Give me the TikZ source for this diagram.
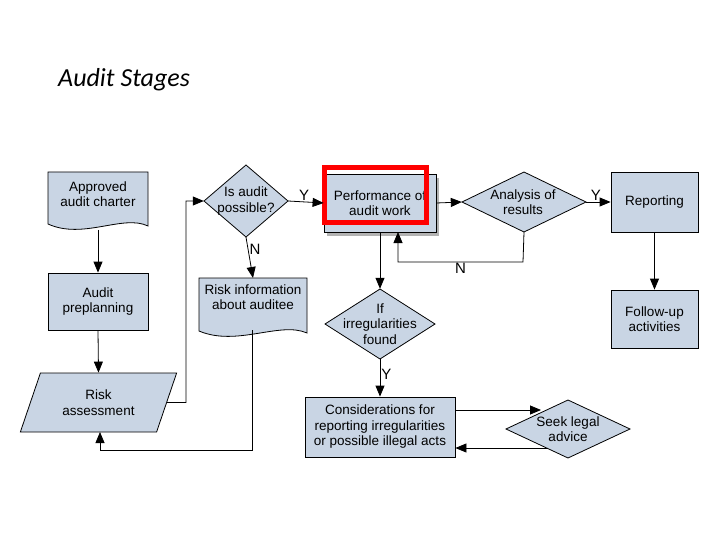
\documentclass[tikz,border=0pt]{standalone}
\usepackage{fontspec}
\setmainfont{Liberation Sans}
\newfontfamily\titlefont{Carlito}
\usetikzlibrary{shapes.geometric,arrows.meta}
\definecolor{fl}{HTML}{C9D5E4}
\newcommand{\docshape}[4]{\draw[thick,fill=fl] (#1,#2) -- (#3,#2) -- (#3,#4) .. controls ({#1+0.75*(#3-#1)},{#4-12}) and ({#1+0.35*(#3-#1)},{#4+14}) .. (#1,{#4-2}) -- cycle;}
\newcommand{\diam}[5]{\draw[thick,fill=fl] (#1,#2) -- ({#1+#3},{#2+#4}) -- ({#1+2*#3},#2) -- ({#1+#3},{#2-#4}) -- cycle; \node (#5) at ({#1+#3},#2) [minimum width={2*#3pt},minimum height={2*#4pt},inner sep=0pt,draw=none,rectangle] {};}
\begin{document}
\begin{tikzpicture}[x=1pt,y=-1pt,
  every node/.style={font=\fontsize{13.5}{15.5}\selectfont,align=center,inner sep=1pt},
  box/.style={draw,fill=fl,thick,rectangle},
  lbl/.style={font=\fontsize{15}{15}\selectfont},
  arr/.style={thick,-{Triangle[length=11pt,width=9pt]}}]
\useasboundingbox (0,0) rectangle (720,540);
\node[font=\titlefont\itshape\fontsize{26}{26}\selectfont,anchor=west] (title) at (57,80) {Audit Stages};
\docshape{48}{172}{148}{226}
\node (charter) at (98,194) {Approved\\audit charter};
\node[box,minimum width=100,minimum height=57] (prep) at (98,301.5) {Audit\\preplanning};
\node[draw,thick,fill=fl,trapezium,trapezium left angle=65,trapezium right angle=115,minimum width=157,minimum height=59,trapezium stretches=true] (risk) at (98.5,402.5) {Risk\\assessment};
\diam{204}{201}{42}{36}{poss}
\node (posst) at (246,201) {Is audit\\possible?};
\docshape{199}{278}{307}{333}
\node (rinfo) at (253,297) {Risk information\\about auditee};
\fill[gray!60] (327,178) rectangle (439,236);
\node[box,minimum width=112,minimum height=58] (perf) at (380,203) {Performance of\\audit work};
\draw[red,line width=5pt] (324,168) rectangle (426,223);
\diam{462}{202}{62}{30}{anal}
\node (analt) at (523,202) {Analysis of\\results};
\node[box,minimum width=87,minimum height=60] (rep) at (654.5,202) {Reporting};
\node[box,minimum width=87,minimum height=58] (fol) at (654.5,319) {Follow-up\\activities};
\diam{325}{324}{55}{35}{irr}
\node (irrt) at (380,324) {If\\irregularities\\found};
\node[box,minimum width=150,minimum height=60] (cons) at (380,427) {Considerations for\\reporting irregularities\\or possible illegal acts};
\diam{506}{429}{62}{29}{legal}
\node (legalt) at (568,429) {Seek legal\\advice};
\coordinate (cb) at (98,230);
\draw[arr] (cb) -- (prep.north);
\draw[arr] (prep.south) -- (risk.north);
\draw[arr] (risk.east) -- (186,402.5) -- (186,201) -- (poss.west);
\draw[arr] (poss.east) -- node[lbl,above,pos=0.45]{Y} (perf.west);
\draw[arr] (poss.south) -- node[lbl,right,pos=0.3]{N} (253,278);
\coordinate (rb) at (252,330);
\draw[arr] (rb) -- (252,450) -- (100,450) -- (100,432);
\draw[arr] (perf.east) -- (anal.west);
\draw[arr] (anal.south) -- (523,262) -- node[lbl,below]{N} (398,262) -- (398,232);
\draw[arr] (anal.east) -- node[lbl,above,pos=0.4]{Y} (rep.west);
\draw[arr] (rep.south) -- (fol.north);
\draw[arr] (perf.south) -- (irr.north);
\draw[arr] (irr.south) -- node[lbl,right,pos=0.4]{Y} (cons.north);
\draw[arr] (cons.east |- 0,410) -- (541,410);
\draw[arr] (548,448) -- (cons.east |- 0,448);
\end{tikzpicture}
\end{document}
